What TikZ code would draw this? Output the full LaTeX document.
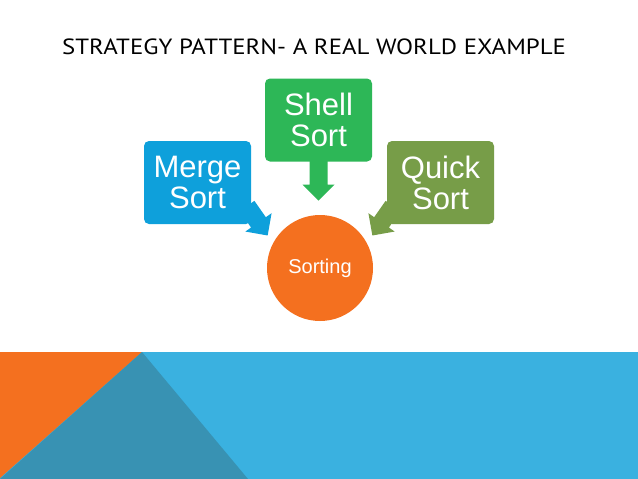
\documentclass[tikz,border=0pt]{standalone}
\usepackage{fontspec}
\setmainfont{Liberation Sans}
\newfontfamily\titlefont{PT Sans}
\definecolor{mblue}{HTML}{0EA0DB}
\definecolor{sgreen}{HTML}{2DB757}
\definecolor{qgreen}{HTML}{779D48}
\definecolor{sorange}{HTML}{F4701F}
\definecolor{lblue}{HTML}{3AB1E0}
\definecolor{dteal}{HTML}{3892B3}
\begin{document}
\begin{tikzpicture}[x=1pt,y=-1pt,
  box/.style={rounded corners=5pt,minimum width=107pt,minimum height=83pt,text=white,font=\fontsize{31}{31}\selectfont,align=center,inner sep=0pt}]
\useasboundingbox (0,0) rectangle (638,479);
\fill[white] (0,0) rectangle (638,479);
% band
\fill[lblue] (0,352) rectangle (638,479);
\fill[sorange] (0,352) -- (142,352) -- (0,478) -- cycle;
\fill[dteal] (142,352) -- (248,479) -- (0,479) -- cycle;
\node[font=\titlefont\fontsize{22}{22}\selectfont,anchor=west,inner sep=0pt] (title) at (62,47) {\scalebox{1.13}[1]{STRATEGY PATTERN- A REAL WORLD EXAMPLE}};
\node[box,fill=mblue] (merge) at (197.5,182.5) {Merge\\Sort};
\node[box,fill=sgreen] (shell) at (318.5,120) {Shell\\Sort};
\node[box,fill=qgreen] (quick) at (440.5,182.5) {Quick\\Sort};
\node[circle,fill=sorange,minimum size=106pt,text=white,font=\fontsize{20}{20}\selectfont,inner sep=0pt] (sort) at (320,268) {Sorting};
% block arrows: local frame, pointing +x
\def\barrow#1#2#3#4{\begin{scope}[shift={#1},rotate=#2]
 \fill[#4] (0,-9) -- (#3-16,-9) -- (#3-16,-16) -- (#3,0) -- (#3-16,16) -- (#3-16,9) -- (0,9) -- cycle;\end{scope}}
\barrow{([yshift=3pt]shell.south)}{-90}{42}{sgreen}
\barrow{(247,206)}{-55}{36}{mblue}
\barrow{(393,206)}{-125}{36}{qgreen}
\end{tikzpicture}
\end{document}
